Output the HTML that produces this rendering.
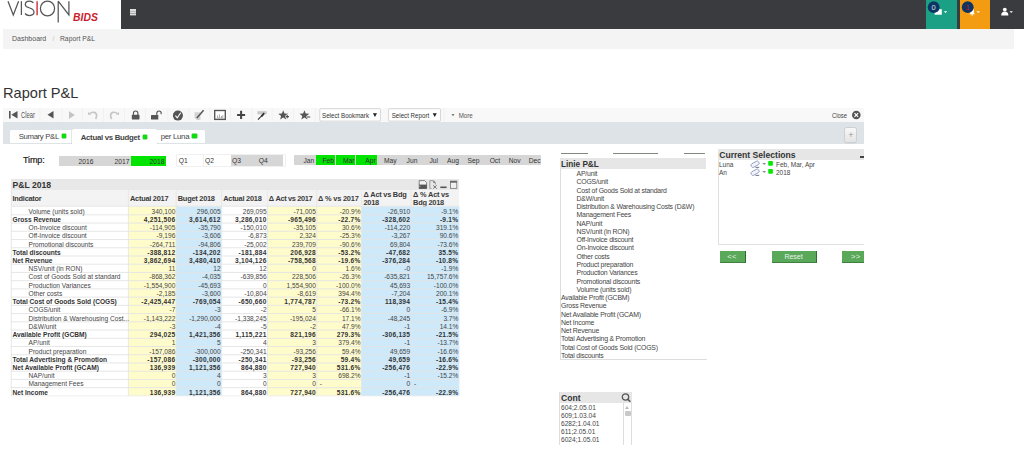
<!DOCTYPE html>
<html><head><meta charset="utf-8">
<style>
*{box-sizing:border-box;margin:0;padding:0}
html,body{width:1024px;height:466px;overflow:hidden;background:#fff;font-family:"Liberation Sans",sans-serif;color:#333}
.a{position:absolute}
#hdr{left:121px;top:0;width:903px;height:28.5px;background:#3a3b3f}
#bc{left:3px;top:29px;width:1011px;height:20px;background:#f4f4f4;font-size:7px;color:#555}
#h1{left:3px;top:85.3px;font-size:14.6px;color:#333;white-space:nowrap}
#tb{left:2.6px;top:107.6px;width:861.4px;height:14.4px;background:#f8f8f8}
#tabs{left:3px;top:122px;width:861px;height:22px;background:#dde3e7}
.tab{position:absolute;top:7.8px;height:13.2px;background:#fff;font-size:7.8px;color:#444;padding-left:7px;line-height:13.6px;white-space:nowrap}
.gsq{display:inline-block;width:4.5px;height:4.6px;background:#0be00b;margin-left:2.8px;vertical-align:0.5px;border-radius:0.8px;box-shadow:0 0 0 0.4px #3cb83c;letter-spacing:0}
.hl{left:11px;width:448.3px;height:1px;background:rgba(0,0,0,0.07)}
.vl{top:206.4px;width:1px;height:188.6px;background:rgba(0,0,0,0.06)}
.tr{font-size:6.6px;line-height:8.2px;white-space:nowrap;color:#454545;padding-top:1px}
.tv.b{letter-spacing:0.25px}
.tr.b{font-weight:bold;color:#333}
.th{position:absolute;top:190.2px;height:16.1px;background:#f3f3f3;font-size:7.4px;font-weight:bold;color:#3a3a3a;padding:0.8px 1px 0 1.5px;line-height:7.5px;display:flex;align-items:center;letter-spacing:-0.25px}
.yr{position:absolute;top:0;height:100%;font-size:6.7px;line-height:12.5px;text-align:right;padding-right:1.5px;color:#333}
.lb{font-size:6.5px;line-height:8.2px;color:#444;white-space:nowrap}
.btn{position:absolute;top:250.8px;height:12.5px;background:#5aa85a;border-right:1.5px solid #2f6a2f;border-bottom:1px solid #3f7f3f;color:#e8f4e8;font-size:7px;line-height:12px;text-align:center}
</style></head>
<body>
<!-- logo -->
<svg class="a" style="left:0;top:0" width="121" height="29" viewBox="0 0 121 29">
 <g fill="none" stroke="#555" stroke-width="1.25">
  <path d="M8 1.2 L13.3 15 L18.6 1.2"/>
  <path d="M21.4 1.2 V15"/>
  <path d="M33.4 2.9 C32.5 1.6 31 1.05 29.5 1.05 C27 1.05 25.3 2.4 25.3 4.4 C25.3 6.6 27.5 7.3 29.8 8 C32.3 8.8 34 9.7 34 12.1 C34 14.3 32 15.5 29.5 15.5 C27.6 15.5 26 14.8 25 13.5"/>
  <path d="M58.2 1.2 V22.5 M58.2 1.2 L68.9 15 V1.2"/>
  <ellipse cx="47.5" cy="8.5" rx="7.1" ry="7.4"/>
 </g>
 <path d="M37.1 1.3 V15.3" stroke="#d0252e" stroke-width="1.35"/>
 <text x="73" y="21" font-family="Liberation Sans" font-weight="bold" font-style="italic" font-size="10.4" fill="#c9212c">BIDS</text>
</svg>
<div id="hdr" class="a"></div>
<!-- hamburger -->
<div class="a" style="left:129.7px;top:9.3px;width:6.4px;height:1.4px;background:#ddd;box-shadow:0 2.2px 0 #ddd,0 4.4px 0 #ddd"></div>
<!-- green / orange boxes -->
<div class="a" style="left:926px;top:0;width:31px;height:28.5px;background:#1ba086"></div>
<div class="a" style="left:959.6px;top:0;width:30.4px;height:28.5px;background:#f39c12"></div>
<svg class="a" style="left:920px;top:0" width="104" height="29" viewBox="0 0 104 29">
 <!-- envelope -->
 <rect x="14.6" y="9.2" width="7.2" height="5.5" fill="#fff"/>
 <path d="M23.8 11.3 h3.4 l-1.7 1.8 z" fill="#fff"/>
 <circle cx="13.7" cy="7.2" r="5.9" fill="#0d3563"/>
 <text x="13.7" y="9.6" font-family="Liberation Sans" font-size="7.5" fill="#cfe0f0" text-anchor="middle">0</text>
 <!-- bell -->
 <path d="M49.2 14.2 h5.8 l-1.1 -1.2 v-2.8 a1.8 1.8 0 0 0 -3.6 0 v2.8 z M51.4 14.6 h1.4 v0.9 h-1.4z" fill="#fff"/>
 <path d="M56.5 11.3 h3.4 l-1.7 1.8 z" fill="#fff"/>
 <circle cx="47.7" cy="7.2" r="5.9" fill="#0d3563"/>
 <text x="47.7" y="9.6" font-family="Liberation Sans" font-size="7.5" fill="#e0101a" text-anchor="middle">1</text>
 <!-- user -->
 <circle cx="84.8" cy="9.6" r="1.9" fill="#fff"/>
 <path d="M81.2 15.5 c0 -3 1.5 -4 3.6 -4 s3.6 1 3.6 4 z" fill="#fff"/>
 <path d="M89.5 11.3 h3.4 l-1.7 1.8 z" fill="#fff"/>
</svg>
<div id="bc" class="a"><span class="a" style="left:9px;top:6.2px">Dashboard</span><span class="a" style="left:49.5px;top:6.2px;color:#c4c4c4">/</span><span class="a" style="left:57px;top:6.2px;font-size:6.75px">Raport P&amp;L</span></div>
<div id="h1" class="a">Raport P&amp;L</div>
<div id="tb" class="a"></div>
<svg class="a" style="left:0;top:107px" width="864" height="15" viewBox="0 107 864 15">
 <g stroke="#ececec" stroke-width="0.6">
  <path d="M40 107.5 V121.5 M62 107.5 V121.5 M82.5 107.5 V121.5 M103.5 107.5 V121.5 M124.5 107.5 V121.5 M145.5 107.5 V121.5 M168 107.5 V121.5 M189 107.5 V121.5 M210 107.5 V121.5 M230.5 107.5 V121.5 M251.7 107.5 V121.5 M272.2 107.5 V121.5 M293.5 107.5 V121.5 M315.4 107.5 V121.5 M444 107.5 V121.5"/>
 </g>
 <!-- clear -->
 <rect x="9" y="111" width="1.6" height="7.5" fill="#555"/>
 <path d="M17.5 111 V118.5 L11.3 114.75 Z" fill="#555"/>
 <text x="21" y="118.3" font-family="Liberation Sans" font-size="8.5" fill="#555" textLength="14" lengthAdjust="spacingAndGlyphs">Clear</text>
 <!-- back / fwd -->
 <path d="M53.5 111 V118.5 L47.5 114.75 Z" fill="#555"/>
 <path d="M69 111.2 V119 L74.8 115.1 Z" fill="#c4c4c4"/>
 <!-- undo / redo -->
 <path d="M89.8 113.6 C92.5 111.3 96.6 112 96.6 115.6 C96.6 117.3 96 118.3 95.6 119" fill="none" stroke="#c6c6c6" stroke-width="1.7"/>
 <path d="M88 111.9 L88.2 115 L91.3 114.4 Z" fill="#c6c6c6"/>
 <path d="M117.4 113.6 C114.7 111.3 110.6 112 110.6 115.6 C110.6 117.3 111.2 118.3 111.6 119" fill="none" stroke="#c6c6c6" stroke-width="1.7"/>
 <path d="M119.2 111.9 L119 115 L115.9 114.4 Z" fill="#c6c6c6"/>
 <!-- lock -->
 <rect x="131.8" y="114.8" width="7.7" height="4.6" rx="0.6" fill="#555"/>
 <path d="M133.4 115 V113.3 A2.2 2.2 0 0 1 137.9 113.3 V115" fill="none" stroke="#555" stroke-width="1.1"/>
 <!-- unlock -->
 <rect x="151" y="115" width="7.3" height="4.4" rx="0.5" fill="#555"/>
 <path d="M156.8 115 V113.2 A2.2 2.2 0 0 1 161.2 113.2 V114.2" fill="none" stroke="#555" stroke-width="1.1"/>
 <!-- check circle -->
 <circle cx="177.9" cy="115.6" r="5" fill="#555"/>
 <path d="M175.4 115.6 L177.3 117.8 L180.7 112.8" fill="none" stroke="#fff" stroke-width="1.1"/>
 <!-- edit -->
 <path d="M194.5 112.2 H200.5 L200.5 120 H196.6 L194.5 117.8 Z" fill="#d3d3d3"/>
 <path d="M196.8 118 L203.6 110.2" stroke="#555" stroke-width="1.5"/>
 <!-- chart -->
 <rect x="214.7" y="110.5" width="10.6" height="8.9" fill="#fff" stroke="#555" stroke-width="1.35"/>
 <path d="M217.5 117.8 V115.5 M219.5 117.8 V114.5 M221.5 117.8 V116 M222.8 117.8 V115" stroke="#777" stroke-width="0.6"/>
 <path d="M216.8 118 H223.3" stroke="#777" stroke-width="0.5"/>
 <!-- plus -->
 <path d="M241.1 110.8 V119 M237.1 115 H245.1" stroke="#444" stroke-width="2"/>
 <!-- brush -->
 <rect x="257.4" y="111.2" width="9.3" height="3.1" fill="#c8c8c8"/>
 <path d="M258 119.6 L262.8 114.6" stroke="#333" stroke-width="1.2"/><path d="M261.5 116.3 L264.2 113.1" stroke="#333" stroke-width="1.8"/>
 <!-- star + -->
 <path d="M283.20 110.20 L284.49 113.62 L288.15 113.79 L285.29 116.08 L286.26 119.61 L283.20 117.60 L280.14 119.61 L281.11 116.08 L278.25 113.79 L281.91 113.62 Z" fill="#555"/>
 <path d="M285.4 116.6 H289.2 M287.3 114.7 V118.5" stroke="#f8f8f8" stroke-width="2.2"/>
 <path d="M285.6 116.6 H289 M287.3 114.9 V118.3" stroke="#555" stroke-width="1.1"/>
 <!-- star - -->
 <path d="M304.40 110.20 L305.69 113.62 L309.35 113.79 L306.49 116.08 L307.46 119.61 L304.40 117.60 L301.34 119.61 L302.31 116.08 L299.45 113.79 L303.11 113.62 Z" fill="#555"/>
 <path d="M306.4 117 H310.4" stroke="#f8f8f8" stroke-width="2.2"/>
 <path d="M306.6 117 H310.2" stroke="#555" stroke-width="1.1"/>
 <!-- dropdowns -->
 <rect x="319.8" y="108.7" width="60.6" height="12.4" rx="1" fill="#fff" stroke="#bdbdbd" stroke-width="0.6"/>
 <text x="322" y="117.6" font-family="Liberation Sans" font-size="6.8" fill="#333" textLength="47" lengthAdjust="spacingAndGlyphs">Select Bookmark</text>
 <path d="M372.9 113.2 H377 L374.95 117 Z" fill="#222"/>
 <rect x="388.6" y="108.7" width="51.9" height="12.4" rx="1" fill="#fff" stroke="#bdbdbd" stroke-width="0.6"/>
 <text x="391.7" y="117.6" font-family="Liberation Sans" font-size="6.8" fill="#333" textLength="37.5" lengthAdjust="spacingAndGlyphs">Select Report</text>
 <path d="M432.7 113.2 H436.8 L434.75 117 Z" fill="#222"/>
 <path d="M451.5 114 H454.5 L453 116.2 Z" fill="#777"/>
 <text x="458.7" y="117.8" font-family="Liberation Sans" font-size="6.6" fill="#555" textLength="14" lengthAdjust="spacingAndGlyphs">More</text>
 <!-- close -->
 <text x="832" y="117.8" font-family="Liberation Sans" font-size="6.8" fill="#444" textLength="15" lengthAdjust="spacingAndGlyphs">Close</text>
 <circle cx="856.3" cy="115" r="4.3" fill="#555"/>
 <path d="M854.5 113.2 L858.1 116.8 M858.1 113.2 L854.5 116.8" stroke="#fff" stroke-width="1.2"/>
</svg>
<div id="tabs" class="a">
 <div class="tab" style="left:7.4px;width:61.6px;padding-left:8.3px;letter-spacing:-0.36px;border-radius:1.5px 0 0 0">Sumary P&amp;L<span class="gsq"></span></div>
 <div class="tab" style="left:69.2px;width:84.5px;top:6.6px;height:15.4px;line-height:17.4px;font-weight:bold;padding-left:8.5px;letter-spacing:-0.28px;box-shadow:-0.5px 0 0 #c9ced2,0.5px 0 0 #c9ced2;border-radius:1.5px 1.5px 0 0">Actual vs Budget<span class="gsq"></span></div>
 <div class="tab" style="left:153.7px;width:48.8px;padding-left:4px;letter-spacing:-0.28px;border-radius:0 1.5px 0 0">per Luna<span class="gsq"></span></div>
 <div style="position:absolute;left:841.2px;top:5.2px;width:13.3px;height:15.5px;border-radius:2.5px;background:linear-gradient(#f8f8f8,#e4e4e4);border:0.5px solid #ccd0d3;box-shadow:0 0.5px 0.5px rgba(0,0,0,0.08);color:#999;font-size:9px;line-height:15px;text-align:center">+</div>
</div>

<!-- Timp selectors -->
<div class="a" style="left:23.1px;top:155.4px;font-size:9px;letter-spacing:-0.15px;color:#222;-webkit-text-stroke:0.2px #222">Timp:</div>
<div class="a" style="left:59px;top:155.6px;width:107px;height:10px;background:#d6d6d6">
 <div class="yr" style="left:0;width:36px">2016</div>
 <div class="yr" style="left:36px;width:36px">2017</div>
 <div class="yr" style="left:72px;width:35px;background:#00e400">2018</div>
</div>
<div class="a" style="left:177.3px;top:155.4px;width:108.2px;height:10.4px;background:#fff;box-shadow:0 0 0 0.6px #e6e6e6">
 <div class="yr" style="left:0;width:26px;text-align:left;padding-left:1.5px;box-shadow:0.6px 0 0 #e6e6e6">Q1</div>
 <div class="yr" style="left:26.2px;width:27.5px;text-align:left;padding-left:1.5px">Q2</div>
 <div class="yr" style="left:53.7px;width:52.3px;background:#d6d6d6"></div>
 <div class="yr" style="left:53.7px;width:26px;text-align:left;padding-left:1px">Q3</div>
 <div class="yr" style="left:80px;width:26px;text-align:left;padding-left:1.5px">Q4</div>
</div>
<div class="a" style="left:294.2px;top:155.1px;width:246.8px;height:9.9px;background:#d6d6d6">
 <div class="yr" style="left:0;width:21.7px;padding-right:1.6px">Jan</div>
 <div class="yr" style="left:21.7px;width:19.4px;padding-right:1.3px;background:#00e400">Feb</div>
 <div class="yr" style="left:41.7px;width:19.6px;padding-right:0.9px;background:#00e400">Mar</div>
 <div class="yr" style="left:61.9px;width:20.5px;padding-right:0.9px;background:#00e400">Apr</div>
 <div class="yr" style="left:82.4px;width:20.6px;padding-right:0.5px">May</div>
 <div class="yr" style="left:103px;width:20.6px;padding-right:0.4px">Jun</div>
 <div class="yr" style="left:123.6px;width:20.6px;padding-right:0.3px">Jul</div>
 <div class="yr" style="left:144.2px;width:20.6px;padding-right:0.1px">Aug</div>
 <div class="yr" style="left:164.8px;width:20.6px;padding-right:0.1px">Sep</div>
 <div class="yr" style="left:185.4px;width:20.6px;padding-right:0.1px">Oct</div>
 <div class="yr" style="left:206px;width:20.6px;padding-right:0.1px">Nov</div>
 <div class="yr" style="left:226.6px;width:20.2px;padding-right:0.3px">Dec</div>
</div>

<!-- P&L table -->
<div class="a" style="left:11px;top:179.2px;width:448.3px;height:11px;background:#e8e8e8;font-size:8.6px;font-weight:bold;color:#333;padding-left:1.5px;line-height:12.2px">P&amp;L 2018</div>
<svg class="a" style="left:410px;top:176px" width="52" height="16" viewBox="410 176 52 16">
 <path d="M419.2 180.6 H424.6 L426.6 182.6 V188.5 H419.2 Z" fill="#f2f2f2" stroke="#555" stroke-width="0.7"/>
 <rect x="419" y="184.6" width="7.8" height="4.1" fill="#555"/>
 <rect x="419.3" y="185.8" width="1" height="0.9" fill="#ddd"/>
 <path d="M429.8 180.7 H433.6 L435.3 182.4 V184.5 M431.5 188.4 H429.8 V180.7" fill="none" stroke="#888" stroke-width="0.8"/>
 <path d="M433.4 180.8 L435.3 182.7 L433.4 182.7 Z" fill="#555"/>
 <path d="M433.2 185.3 L436.6 188.6 M436.6 185.3 L433.2 188.6" stroke="#666" stroke-width="0.9"/>
 <rect x="440.3" y="186.5" width="6.3" height="1.6" fill="#555"/>
 <rect x="450.4" y="181.1" width="6.4" height="7.2" fill="#f0f0f0" stroke="#666" stroke-width="0.7"/>
 <rect x="450.2" y="181" width="6.8" height="1.7" fill="#666"/>
</svg>
<div class="th" style="left:11px;width:117.4px">Indicator</div>
<div class="th" style="left:128.4px;width:47.8px;padding-left:1.6px">Actual 2017</div>
<div class="th" style="left:176.2px;width:45.4px;padding-left:1.6px">Buget 2018</div>
<div class="th" style="left:221.6px;width:45.9px;padding-left:1.6px">Actual 2018</div>
<div class="th" style="left:267.5px;width:49.3px;white-space:nowrap;padding:0.8px 0 0 1.3px;letter-spacing:-0.35px">Δ Act vs 2017</div>
<div class="th" style="left:316.8px;width:44.7px;white-space:nowrap;padding:0.8px 0 0 1.3px;letter-spacing:-0.2px">Δ % vs 2017</div>
<div class="th" style="left:361.5px;width:49.6px;padding-left:2px">Δ Act vs Bdg 2018</div>
<div class="th" style="left:411.1px;width:48.2px;padding-left:2px">Δ % Act vs Bdg 2018</div>
<svg class="a" style="left:0;top:0" width="470" height="400" viewBox="0 0 470 400"><rect x="11" y="206.6" width="117.4" height="189.29" fill="#fff"/><rect x="128.4" y="206.6" width="47.8" height="189.29" fill="#fffccc"/><rect x="176.2" y="206.6" width="45.4" height="189.29" fill="#cde9fa"/><rect x="221.6" y="206.6" width="45.9" height="189.29" fill="#fff"/><rect x="267.5" y="206.6" width="49.3" height="189.29" fill="#fffccc"/><rect x="316.8" y="206.6" width="44.7" height="189.29" fill="#fffccc"/><rect x="361.5" y="206.6" width="49.6" height="189.29" fill="#cde9fa"/><rect x="411.1" y="206.6" width="48.2" height="189.29" fill="#cde9fa"/><path d="M11 214.83H459.3 M11 223.06H459.3 M11 231.29H459.3 M11 239.52H459.3 M11 247.75H459.3 M11 255.98H459.3 M11 264.21H459.3 M11 272.44H459.3 M11 280.67H459.3 M11 288.90H459.3 M11 297.13H459.3 M11 305.36H459.3 M11 313.59H459.3 M11 321.82H459.3 M11 330.05H459.3 M11 338.28H459.3 M11 346.51H459.3 M11 354.74H459.3 M11 362.97H459.3 M11 371.20H459.3 M11 379.43H459.3 M11 387.66H459.3" stroke="#e4e4e4" stroke-width="0.9" fill="none"/><path d="M128.4 190.2V395.89 M176.2 190.2V395.89 M221.6 190.2V395.89 M267.5 190.2V395.89 M316.8 190.2V395.89 M361.5 190.2V395.89 M411.1 190.2V395.89" stroke="#e4e4e4" stroke-width="0.8" fill="none"/><path d="M11 395.89H459.3" stroke="#e8e8e8" stroke-width="0.8" fill="none"/><path d="M11.3 190.2V395.89" stroke="#dcdcdc" stroke-width="0.7" fill="none"/><path d="M11 206.3H459.3" stroke="#dedede" stroke-width="0.7" fill="none"/></svg>
<div class="a tr " style="top:206.6px;left:28.5px">Volume (units sold)</div>
<div class="a tr tv " style="top:206.6px;right:848.7px">340,100</div>
<div class="a tr tv " style="top:206.6px;right:803.3px">296,005</div>
<div class="a tr tv " style="top:206.6px;right:757.4px">269,095</div>
<div class="a tr tv " style="top:206.6px;right:708.1px">-71,005</div>
<div class="a tr tv " style="top:206.6px;right:663.4px">-20.9%</div>
<div class="a tr tv " style="top:206.6px;right:613.8px">-26,910</div>
<div class="a tr tv " style="top:206.6px;right:565.6px">-9.1%</div>
<div class="a tr b" style="top:214.8px;left:12.5px">Gross Revenue</div>
<div class="a tr tv b" style="top:214.8px;right:848.7px">4,251,506</div>
<div class="a tr tv b" style="top:214.8px;right:803.3px">3,614,612</div>
<div class="a tr tv b" style="top:214.8px;right:757.4px">3,286,010</div>
<div class="a tr tv b" style="top:214.8px;right:708.1px">-965,496</div>
<div class="a tr tv b" style="top:214.8px;right:663.4px">-22.7%</div>
<div class="a tr tv b" style="top:214.8px;right:613.8px">-328,602</div>
<div class="a tr tv b" style="top:214.8px;right:565.6px">-9.1%</div>
<div class="a tr " style="top:223.1px;left:28.5px">On-Invoice discount</div>
<div class="a tr tv " style="top:223.1px;right:848.7px">-114,905</div>
<div class="a tr tv " style="top:223.1px;right:803.3px">-35,790</div>
<div class="a tr tv " style="top:223.1px;right:757.4px">-150,010</div>
<div class="a tr tv " style="top:223.1px;right:708.1px">-35,105</div>
<div class="a tr tv " style="top:223.1px;right:663.4px">30.6%</div>
<div class="a tr tv " style="top:223.1px;right:613.8px">-114,220</div>
<div class="a tr tv " style="top:223.1px;right:565.6px">319.1%</div>
<div class="a tr " style="top:231.3px;left:28.5px">Off-Invoice discount</div>
<div class="a tr tv " style="top:231.3px;right:848.7px">-9,196</div>
<div class="a tr tv " style="top:231.3px;right:803.3px">-3,606</div>
<div class="a tr tv " style="top:231.3px;right:757.4px">-6,873</div>
<div class="a tr tv " style="top:231.3px;right:708.1px">2,324</div>
<div class="a tr tv " style="top:231.3px;right:663.4px">-25.3%</div>
<div class="a tr tv " style="top:231.3px;right:613.8px">-3,267</div>
<div class="a tr tv " style="top:231.3px;right:565.6px">90.6%</div>
<div class="a tr " style="top:239.5px;left:28.5px">Promotional discounts</div>
<div class="a tr tv " style="top:239.5px;right:848.7px">-264,711</div>
<div class="a tr tv " style="top:239.5px;right:803.3px">-94,806</div>
<div class="a tr tv " style="top:239.5px;right:757.4px">-25,002</div>
<div class="a tr tv " style="top:239.5px;right:708.1px">239,709</div>
<div class="a tr tv " style="top:239.5px;right:663.4px">-90.6%</div>
<div class="a tr tv " style="top:239.5px;right:613.8px">69,804</div>
<div class="a tr tv " style="top:239.5px;right:565.6px">-73.6%</div>
<div class="a tr b" style="top:247.8px;left:12.5px">Total discounts</div>
<div class="a tr tv b" style="top:247.8px;right:848.7px">-388,812</div>
<div class="a tr tv b" style="top:247.8px;right:803.3px">-134,202</div>
<div class="a tr tv b" style="top:247.8px;right:757.4px">-181,884</div>
<div class="a tr tv b" style="top:247.8px;right:708.1px">206,928</div>
<div class="a tr tv b" style="top:247.8px;right:663.4px">-53.2%</div>
<div class="a tr tv b" style="top:247.8px;right:613.8px">-47,682</div>
<div class="a tr tv b" style="top:247.8px;right:565.6px">35.5%</div>
<div class="a tr b" style="top:256.0px;left:12.5px">Net Revenue</div>
<div class="a tr tv b" style="top:256.0px;right:848.7px">3,862,694</div>
<div class="a tr tv b" style="top:256.0px;right:803.3px">3,480,410</div>
<div class="a tr tv b" style="top:256.0px;right:757.4px">3,104,126</div>
<div class="a tr tv b" style="top:256.0px;right:708.1px">-758,568</div>
<div class="a tr tv b" style="top:256.0px;right:663.4px">-19.6%</div>
<div class="a tr tv b" style="top:256.0px;right:613.8px">-376,284</div>
<div class="a tr tv b" style="top:256.0px;right:565.6px">-10.8%</div>
<div class="a tr " style="top:264.2px;left:28.5px">NSV/unit (in RON)</div>
<div class="a tr tv " style="top:264.2px;right:848.7px">11</div>
<div class="a tr tv " style="top:264.2px;right:803.3px">12</div>
<div class="a tr tv " style="top:264.2px;right:757.4px">12</div>
<div class="a tr tv " style="top:264.2px;right:708.1px">0</div>
<div class="a tr tv " style="top:264.2px;right:663.4px">1.6%</div>
<div class="a tr tv " style="top:264.2px;right:613.8px">-0</div>
<div class="a tr tv " style="top:264.2px;right:565.6px">-1.9%</div>
<div class="a tr " style="top:272.4px;left:28.5px">Cost of Goods Sold at standard</div>
<div class="a tr tv " style="top:272.4px;right:848.7px">-868,362</div>
<div class="a tr tv " style="top:272.4px;right:803.3px">-4,035</div>
<div class="a tr tv " style="top:272.4px;right:757.4px">-639,856</div>
<div class="a tr tv " style="top:272.4px;right:708.1px">228,506</div>
<div class="a tr tv " style="top:272.4px;right:663.4px">-26.3%</div>
<div class="a tr tv " style="top:272.4px;right:613.8px">-635,821</div>
<div class="a tr tv " style="top:272.4px;right:565.6px">15,757.6%</div>
<div class="a tr " style="top:280.7px;left:28.5px">Production Variances</div>
<div class="a tr tv " style="top:280.7px;right:848.7px">-1,554,900</div>
<div class="a tr tv " style="top:280.7px;right:803.3px">-45,693</div>
<div class="a tr tv " style="top:280.7px;right:757.4px">0</div>
<div class="a tr tv " style="top:280.7px;right:708.1px">1,554,900</div>
<div class="a tr tv " style="top:280.7px;right:663.4px">-100.0%</div>
<div class="a tr tv " style="top:280.7px;right:613.8px">45,693</div>
<div class="a tr tv " style="top:280.7px;right:565.6px">-100.0%</div>
<div class="a tr " style="top:288.9px;left:28.5px">Other costs</div>
<div class="a tr tv " style="top:288.9px;right:848.7px">-2,185</div>
<div class="a tr tv " style="top:288.9px;right:803.3px">-3,600</div>
<div class="a tr tv " style="top:288.9px;right:757.4px">-10,804</div>
<div class="a tr tv " style="top:288.9px;right:708.1px">-8,619</div>
<div class="a tr tv " style="top:288.9px;right:663.4px">394.4%</div>
<div class="a tr tv " style="top:288.9px;right:613.8px">-7,204</div>
<div class="a tr tv " style="top:288.9px;right:565.6px">200.1%</div>
<div class="a tr b" style="top:297.1px;left:12.5px">Total Cost of Goods Sold (COGS)</div>
<div class="a tr tv b" style="top:297.1px;right:848.7px">-2,425,447</div>
<div class="a tr tv b" style="top:297.1px;right:803.3px">-769,054</div>
<div class="a tr tv b" style="top:297.1px;right:757.4px">-650,660</div>
<div class="a tr tv b" style="top:297.1px;right:708.1px">1,774,787</div>
<div class="a tr tv b" style="top:297.1px;right:663.4px">-73.2%</div>
<div class="a tr tv b" style="top:297.1px;right:613.8px">118,394</div>
<div class="a tr tv b" style="top:297.1px;right:565.6px">-15.4%</div>
<div class="a tr " style="top:305.4px;left:28.5px">COGS/unit</div>
<div class="a tr tv " style="top:305.4px;right:848.7px">-7</div>
<div class="a tr tv " style="top:305.4px;right:803.3px">-3</div>
<div class="a tr tv " style="top:305.4px;right:757.4px">-2</div>
<div class="a tr tv " style="top:305.4px;right:708.1px">5</div>
<div class="a tr tv " style="top:305.4px;right:663.4px">-66.1%</div>
<div class="a tr tv " style="top:305.4px;right:613.8px">0</div>
<div class="a tr tv " style="top:305.4px;right:565.6px">-6.9%</div>
<div class="a tr " style="top:313.6px;left:28.5px">Distribution &amp; Warehousing Cost...</div>
<div class="a tr tv " style="top:313.6px;right:848.7px">-1,143,222</div>
<div class="a tr tv " style="top:313.6px;right:803.3px">-1,290,000</div>
<div class="a tr tv " style="top:313.6px;right:757.4px">-1,338,245</div>
<div class="a tr tv " style="top:313.6px;right:708.1px">-195,024</div>
<div class="a tr tv " style="top:313.6px;right:663.4px">17.1%</div>
<div class="a tr tv " style="top:313.6px;right:613.8px">-48,245</div>
<div class="a tr tv " style="top:313.6px;right:565.6px">3.7%</div>
<div class="a tr " style="top:321.8px;left:28.5px">D&amp;W/unit</div>
<div class="a tr tv " style="top:321.8px;right:848.7px">-3</div>
<div class="a tr tv " style="top:321.8px;right:803.3px">-4</div>
<div class="a tr tv " style="top:321.8px;right:757.4px">-5</div>
<div class="a tr tv " style="top:321.8px;right:708.1px">-2</div>
<div class="a tr tv " style="top:321.8px;right:663.4px">47.9%</div>
<div class="a tr tv " style="top:321.8px;right:613.8px">-1</div>
<div class="a tr tv " style="top:321.8px;right:565.6px">14.1%</div>
<div class="a tr b" style="top:330.1px;left:12.5px">Available Profit (GCBM)</div>
<div class="a tr tv b" style="top:330.1px;right:848.7px">294,025</div>
<div class="a tr tv b" style="top:330.1px;right:803.3px">1,421,356</div>
<div class="a tr tv b" style="top:330.1px;right:757.4px">1,115,221</div>
<div class="a tr tv b" style="top:330.1px;right:708.1px">821,196</div>
<div class="a tr tv b" style="top:330.1px;right:663.4px">279.3%</div>
<div class="a tr tv b" style="top:330.1px;right:613.8px">-306,135</div>
<div class="a tr tv b" style="top:330.1px;right:565.6px">-21.5%</div>
<div class="a tr " style="top:338.3px;left:28.5px">AP/unit</div>
<div class="a tr tv " style="top:338.3px;right:848.7px">1</div>
<div class="a tr tv " style="top:338.3px;right:803.3px">5</div>
<div class="a tr tv " style="top:338.3px;right:757.4px">4</div>
<div class="a tr tv " style="top:338.3px;right:708.1px">3</div>
<div class="a tr tv " style="top:338.3px;right:663.4px">379.4%</div>
<div class="a tr tv " style="top:338.3px;right:613.8px">-1</div>
<div class="a tr tv " style="top:338.3px;right:565.6px">-13.7%</div>
<div class="a tr " style="top:346.5px;left:28.5px">Product preparation</div>
<div class="a tr tv " style="top:346.5px;right:848.7px">-157,086</div>
<div class="a tr tv " style="top:346.5px;right:803.3px">-300,000</div>
<div class="a tr tv " style="top:346.5px;right:757.4px">-250,341</div>
<div class="a tr tv " style="top:346.5px;right:708.1px">-93,256</div>
<div class="a tr tv " style="top:346.5px;right:663.4px">59.4%</div>
<div class="a tr tv " style="top:346.5px;right:613.8px">49,659</div>
<div class="a tr tv " style="top:346.5px;right:565.6px">-16.6%</div>
<div class="a tr b" style="top:354.7px;left:12.5px">Total Advertising &amp; Promotion</div>
<div class="a tr tv b" style="top:354.7px;right:848.7px">-157,086</div>
<div class="a tr tv b" style="top:354.7px;right:803.3px">-300,000</div>
<div class="a tr tv b" style="top:354.7px;right:757.4px">-250,341</div>
<div class="a tr tv b" style="top:354.7px;right:708.1px">-93,256</div>
<div class="a tr tv b" style="top:354.7px;right:663.4px">59.4%</div>
<div class="a tr tv b" style="top:354.7px;right:613.8px">49,659</div>
<div class="a tr tv b" style="top:354.7px;right:565.6px">-16.6%</div>
<div class="a tr b" style="top:363.0px;left:12.5px">Net Available Profit (GCAM)</div>
<div class="a tr tv b" style="top:363.0px;right:848.7px">136,939</div>
<div class="a tr tv b" style="top:363.0px;right:803.3px">1,121,356</div>
<div class="a tr tv b" style="top:363.0px;right:757.4px">864,880</div>
<div class="a tr tv b" style="top:363.0px;right:708.1px">727,940</div>
<div class="a tr tv b" style="top:363.0px;right:663.4px">531.6%</div>
<div class="a tr tv b" style="top:363.0px;right:613.8px">-256,476</div>
<div class="a tr tv b" style="top:363.0px;right:565.6px">-22.9%</div>
<div class="a tr " style="top:371.2px;left:28.5px">NAP/unit</div>
<div class="a tr tv " style="top:371.2px;right:848.7px">0</div>
<div class="a tr tv " style="top:371.2px;right:803.3px">4</div>
<div class="a tr tv " style="top:371.2px;right:757.4px">3</div>
<div class="a tr tv " style="top:371.2px;right:708.1px">3</div>
<div class="a tr tv " style="top:371.2px;right:663.4px">698.2%</div>
<div class="a tr tv " style="top:371.2px;right:613.8px">-1</div>
<div class="a tr tv " style="top:371.2px;right:565.6px">-15.2%</div>
<div class="a tr " style="top:379.4px;left:28.5px">Management Fees</div>
<div class="a tr tv " style="top:379.4px;right:848.7px">0</div>
<div class="a tr tv " style="top:379.4px;right:803.3px">0</div>
<div class="a tr tv " style="top:379.4px;right:757.4px">0</div>
<div class="a tr tv " style="top:379.4px;right:708.1px">0</div>
<div class="a tr " style="top:379.4px;left:319.8px">-</div>
<div class="a tr tv " style="top:379.4px;right:613.8px">0</div>
<div class="a tr " style="top:379.4px;left:414.1px">-</div>
<div class="a tr b" style="top:387.7px;left:12.5px">Net Income</div>
<div class="a tr tv b" style="top:387.7px;right:848.7px">136,939</div>
<div class="a tr tv b" style="top:387.7px;right:803.3px">1,121,356</div>
<div class="a tr tv b" style="top:387.7px;right:757.4px">864,880</div>
<div class="a tr tv b" style="top:387.7px;right:708.1px">727,940</div>
<div class="a tr tv b" style="top:387.7px;right:663.4px">531.6%</div>
<div class="a tr tv b" style="top:387.7px;right:613.8px">-256,476</div>
<div class="a tr tv b" style="top:387.7px;right:565.6px">-22.9%</div>

<!-- Linie P&L listbox -->
<div class="a" style="left:561px;top:152.6px;width:26.5px;height:1px;background:#7d8c7d"></div>
<div class="a" style="left:613px;top:152.6px;width:44.7px;height:1px;background:#7d8c7d"></div>
<div class="a" style="left:684px;top:152.6px;width:21px;height:1px;background:#7d8c7d"></div>
<div class="a" style="left:559.5px;top:158px;width:147px;height:201.5px;border:0.5px solid #ddd;border-top:0;border-right:0"></div>
<div class="a" style="left:559.5px;top:158px;width:146px;height:11.3px;background:#e6e6e6;font-size:8.2px;font-weight:bold;color:#333;padding-left:1.5px;line-height:13.4px">Linie P&amp;L</div>
<div class="a lb" style="left:561px;top:170.1px;line-height:8.27px;font-size:6.9px;letter-spacing:-0.2px">
<div style="padding-left:15.5px">AP/unit</div>
<div style="padding-left:15.5px">COGS/unit</div>
<div style="padding-left:15.5px">Cost of Goods Sold at standard</div>
<div style="padding-left:15.5px">D&amp;W/unit</div>
<div style="padding-left:15.5px">Distribution &amp; Warehousing Costs (D&amp;W)</div>
<div style="padding-left:15.5px">Management Fees</div>
<div style="padding-left:15.5px">NAP/unit</div>
<div style="padding-left:15.5px">NSV/unit (in RON)</div>
<div style="padding-left:15.5px">Off-Invoice discount</div>
<div style="padding-left:15.5px">On-Invoice discount</div>
<div style="padding-left:15.5px">Other costs</div>
<div style="padding-left:15.5px">Product preparation</div>
<div style="padding-left:15.5px">Production Variances</div>
<div style="padding-left:15.5px">Promotional discounts</div>
<div style="padding-left:15.5px">Volume (units sold)</div>
<div>Available Profit (GCBM)</div>
<div>Gross Revenue</div>
<div>Net Available Profit (GCAM)</div>
<div>Net Income</div>
<div>Net Revenue</div>
<div>Total Advertising &amp; Promotion</div>
<div>Total Cost of Goods Sold (COGS)</div>
<div>Total discounts</div>
</div>

<!-- Current selections -->
<div class="a" style="left:717.7px;top:148.6px;width:146.3px;height:96px;border:0.5px solid #e0e0e0;border-top:0;border-right:0"></div>
<div class="a" style="left:717.7px;top:148.6px;width:146.3px;height:11.1px;background:#e6e6e6;font-size:8.6px;font-weight:bold;color:#333;padding-left:1.5px;line-height:13.1px">Current Selections</div>
<div class="a" style="left:859.8px;top:156.3px;width:4.2px;height:1.3px;background:#444"></div>
<div class="a lb" style="left:719px;top:160.5px;color:#444">Luna</div>
<div class="a lb" style="left:719px;top:168.5px;color:#444">An</div>
<div class="a lb" style="left:776px;top:160.5px;color:#444">Feb, Mar, Apr</div>
<div class="a lb" style="left:776px;top:168.5px;color:#444">2018</div>
<svg class="a" style="left:745px;top:158px" width="30" height="20" viewBox="745 158 30 20">
 <g id="er">
 <rect x="750.9" y="162.3" width="8.4" height="3.9" rx="1.5" transform="rotate(-28 755.1 164.25)" fill="#f4f2fb" stroke="#7d8fb8" stroke-width="0.75"/>
 <path d="M755.5 167.4 H759.2" stroke="#555" stroke-width="0.8"/>
 <path d="M762.3 163.2 H766.1 L764.2 164.8 Z" fill="#666"/>
 <rect x="768.2" y="160.9" width="4.7" height="4.8" rx="0.9" fill="#05ea05"/>
 </g>
 <use href="#er" transform="translate(0 8)"/>
</svg>
<div class="btn" style="left:719.5px;width:26.2px;font-size:7.6px;letter-spacing:0.3px">&lt;&lt;</div>
<div class="btn" style="left:771.5px;width:45.1px">Reset</div>
<div class="btn" style="left:842.4px;width:21.6px;border-right:0;font-size:7.6px;letter-spacing:0.3px;text-align:left;padding-left:8.6px">&gt;&gt;</div>

<!-- Cont listbox -->
<div class="a" style="left:559.3px;top:391.7px;width:72.4px;height:53.2px;border:0.6px solid #ddd;border-top:0;border-bottom:0"></div>
<div class="a" style="left:559.5px;top:391.7px;width:72.1px;height:11.2px;background:#e6e6e6;font-size:8.6px;font-weight:bold;color:#333;padding-left:1.5px;line-height:12.6px">Cont</div>
<svg class="a" style="left:620px;top:391.7px" width="12" height="11" viewBox="0 0 12 11">
 <circle cx="5.5" cy="5" r="3.2" fill="none" stroke="#555" stroke-width="1.3"/>
 <path d="M7.8 7.3 L10.3 9.8" stroke="#555" stroke-width="1.6"/>
</svg>
<div class="a" style="left:623.2px;top:402.9px;width:0.6px;height:42px;background:#ddd"></div>
<div class="a" style="left:624.5px;top:405.5px;width:0;height:0;border-left:2px solid transparent;border-right:2px solid transparent;border-bottom:3px solid #bbb"></div>
<div class="a" style="left:625.3px;top:410.8px;width:5.3px;height:5.6px;background:#c8c8c8;border-radius:1.2px"></div>
<div class="a lb" style="left:561px;top:403.6px;font-size:6.6px;line-height:8.15px">
<div>604;2.05.01</div>
<div>609;1.03.04</div>
<div>6282;1.04.01</div>
<div>611;2.05.01</div>
<div>6024;1.05.01</div>
</div>

</body></html>
